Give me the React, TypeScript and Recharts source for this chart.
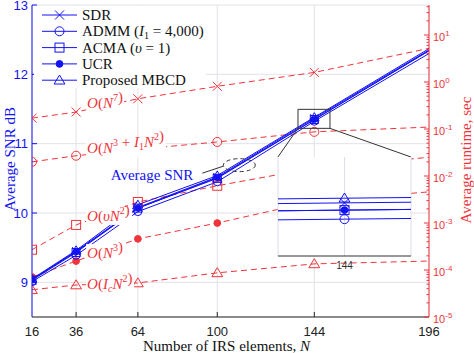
import React from 'react';
import {
  LineChart,
  Line,
  XAxis,
  YAxis,
  CartesianGrid,
  Legend,
  ReferenceDot,
  ReferenceArea,
  ReferenceLine,
} from 'recharts';

// x values (number of IRS elements)
const N_VALUES = [16, 36, 64, 100, 144, 196];

// series keys / legend names
const SERIES_KEYS = ['SDR', 'ADMM', 'ACMA', 'UCR', 'MBCD'];
const SERIES_NAMES = ['SDR', 'ADMM (I1 = 4,000)', 'ACMA (υ = 1)', 'UCR', 'Proposed MBCD'];

// average SNR (dB), left axis
const snrSDR = [9.04, 9.45, 10.08, 10.52, 11.368, 12.35];
const snrADMM = [9.01, 9.39, 10.02, 10.45, 11.323, 12.3];
const snrACMA = [9.03, 9.43, 10.07, 10.5, 11.348, 12.34];
const snrUCR = [9.04, 9.44, 10.07, 10.51, 11.348, 12.34];
const snrMBCD = [9.05, 9.46, 10.12, 10.54, 11.381, 12.37];

// average runtime (sec), right log axis
const rtSDR = [0.17, 0.23, 0.44, 0.81, 1.6, 5.2];
const rtADMM = [0.02, 0.027, 0.037, 0.053, 0.087, 0.11];
const rtACMA = [2.7e-4, 9.1e-4, 2.8e-3, 6.2e-3, 0.0148, 0.025];
const rtUCR = [7.1e-5, 1.55e-4, 4.6e-4, 1.0e-3, 2.9e-3, 4.6e-3];
const rtMBCD = [3.8e-5, 4.8e-5, 5.3e-5, 8.7e-5, 1.35e-4, 1.55e-4];

// axis ticks
const N_DOMAIN = [16, 196];
const SNR_DOMAIN = [8.5, 13];
const SNR_TICKS = [9, 10, 11, 12, 13];
const RT_DECADES = [-5, -4, -3, -2, -1, 0, 1];
const RT_TOP = 43.5;
const RT_DOMAIN = [1e-5, RT_TOP];
const RT_TICKS = RT_DECADES.flatMap((e) => [1, 2, 3, 4, 5, 6, 7, 8, 9].map((m) => m * Math.pow(10, e))).filter(
  (v) => v <= RT_TOP
);

// zoom box around N = 144
const BOX_N = [136.6, 151.1];
const BOX_SNR = [11.221, 11.495];
const INSET_N = [143.9, 144.1];
const INSET_CORNER_N = [127.5, 187.8];
const INSET_CORNER_SNR = 10.808;

const SNR = [snrSDR, snrADMM, snrACMA, snrUCR, snrMBCD];
const RT = [rtSDR, rtADMM, rtACMA, rtUCR, rtMBCD];
const MARKERS = ['cross', 'circle', 'square', 'dot', 'triangle'];
const LAST = N_VALUES.length - 1;

const data = N_VALUES.map((n, i) => {
  const row: Record<string, number> = { n };
  SERIES_KEYS.forEach((k, j) => {
    row['snr' + k] = SNR[j][i];
    row['rt' + k] = RT[j][i];
  });
  return row;
});

const BLUE = '#1212f2';
const RED = '#f0343a';
const SERIF = '"Liberation Serif", "DejaVu Serif", serif';
const SANS = '"Liberation Sans", Arial, sans-serif';

function Marker({ kind, cx, cy, color, s = 4.5, clip }: any) {
  if (cx == null || cy == null || isNaN(cx) || isNaN(cy)) return null;
  const common = { stroke: color, strokeWidth: 1, fill: 'none', clipPath: clip };
  switch (kind) {
    case 'cross':
      return <path {...common} d={`M${cx - s},${cy - s}L${cx + s},${cy + s}M${cx - s},${cy + s}L${cx + s},${cy - s}`} />;
    case 'circle':
      return <circle {...common} cx={cx} cy={cy} r={s} />;
    case 'square':
      return <rect {...common} x={cx - s} y={cy - s} width={2 * s} height={2 * s} />;
    case 'dot':
      return <circle {...common} fill={color} cx={cx} cy={cy} r={s * 0.75} />;
    default:
      return (
        <path
          {...common}
          d={`M${cx},${cy - s * 1.15}L${cx + s * 1.2},${cy + s * 0.85}L${cx - s * 1.2},${cy + s * 0.85}Z`}
        />
      );
  }
}

// markers of the main plot: the point on the right border carries no marker
function mainDot(kind: string, color: string, s: number, id: string) {
  return (p: any) =>
    p.index === LAST ? (
      <g key={id + p.index} />
    ) : (
      <Marker key={id + p.index} kind={kind} cx={p.cx} cy={p.cy} color={color} s={s} clip="url(#plot-clip)" />
    );
}

function SeriesName({ k }: { k: string }) {
  if (k === 'ADMM')
    return (
      <>
        ADMM (<tspan fontStyle="italic">I</tspan>
        <tspan fontSize={10} dy={4}>1</tspan>
        <tspan dy={-4}> = 4,000)</tspan>
      </>
    );
  if (k === 'ACMA')
    return (
      <>
        ACMA (<tspan fontStyle="italic">υ</tspan> = 1)
      </>
    );
  return <>{SERIES_NAMES[SERIES_KEYS.indexOf(k)]}</>;
}

function Complexity({ k }: { k: string }) {
  const O = <tspan fontStyle="italic">O</tspan>;
  const Nn = <tspan fontStyle="italic">N</tspan>;
  const sup = (t: string) => (
    <>
      <tspan dy={-6} fontSize={10}>{t}</tspan>
      <tspan dy={6}>{''}</tspan>
    </>
  );
  if (k === 'SDR') return <>{O}({Nn}{sup('7')})</>;
  if (k === 'ADMM')
    return (
      <>
        {O}({Nn}{sup('3')} + <tspan fontStyle="italic">I</tspan>
        <tspan dy={4} fontSize={10}>1</tspan>
        <tspan dy={-4} fontStyle="italic">N</tspan>
        {sup('2')})
      </>
    );
  if (k === 'ACMA')
    return (
      <>
        {O}(<tspan fontStyle="italic">υN</tspan>{sup('2')})
      </>
    );
  if (k === 'UCR') return <>{O}({Nn}{sup('3')})</>;
  return (
    <>
      {O}(<tspan fontStyle="italic">I</tspan>
      <tspan dy={4} fontSize={10} fontStyle="italic">c</tspan>
      <tspan dy={-4} fontStyle="italic">N</tspan>
      {sup('2')})
    </>
  );
}

const LABEL_WIDTH: Record<string, number> = { SDR: 38, ADMM: 80, ACMA: 46, UCR: 42, MBCD: 48 };
const LABEL_DY: Record<string, number> = { SDR: -9, ADMM: -8, ACMA: -9, UCR: -8, MBCD: -1 };

function ComplexityLabel({ cx, cy, k }: any) {
  const x = cx + 11;
  const y = cy + LABEL_DY[k];
  return (
    <g>
      <rect x={x - 1} y={y - 9} width={LABEL_WIDTH[k]} height={18} fill="#fff" />
      <text x={x} y={y} dominantBaseline="central" fontFamily={SERIF} fontSize={15} fill={RED}>
        <Complexity k={k} />
      </text>
    </g>
  );
}

function SnrNote({ cx, cy }: any) {
  return (
    <g>
      <ellipse cx={cx} cy={cy} rx={16} ry={6.5} fill="none" stroke="#333" strokeDasharray="4 3" />
      <line x1={cx - 37} y1={cy + 8} x2={cx - 16} y2={cy + 1} stroke="#333" />
      <text x={cx - 46} y={cy + 10} textAnchor="end" dominantBaseline="central" fontFamily={SERIF} fontSize={15} fill={BLUE}>
        Average SNR
      </text>
    </g>
  );
}

function LeftTick({ x, y, payload }: any) {
  const ax = x + 5;
  return (
    <g>
      <line x1={ax} x2={ax + 5} y1={y} y2={y} stroke={BLUE} />
      <text x={ax - 4} y={y} textAnchor="end" dominantBaseline="central" fontFamily={SANS} fontSize={13} fill={BLUE}>
        {payload.value}
      </text>
    </g>
  );
}

function RightTick({ x, y, payload }: any) {
  const lg = Math.log10(payload.value);
  const e = Math.round(lg);
  const major = Math.abs(lg - e) < 1e-6;
  const ax = x - 4;
  return (
    <g>
      <line x1={ax} x2={ax - (major ? 5 : 2.5)} y1={y} y2={y} stroke={RED} />
      {major && (
        <text x={x} y={y + 6} fontFamily={SANS} fontSize={11} fill={RED}>
          10
          <tspan dy={-5} fontSize={8}>{e}</tspan>
        </text>
      )}
    </g>
  );
}

function BottomTick({ x, y, payload }: any) {
  const edge = payload.value === N_VALUES[0] || payload.value === N_VALUES[LAST];
  return (
    <g>
      {!edge && <line x1={x} x2={x} y1={y} y2={y - 5} stroke="#262626" />}
      <text x={x} y={y + 14} textAnchor="middle" dominantBaseline="central" fontFamily={SANS} fontSize={13} fill="#222">
        {payload.value}
      </text>
    </g>
  );
}

function TopTick({ x, y, payload }: any) {
  const edge = payload.value === N_VALUES[0] || payload.value === N_VALUES[LAST];
  if (edge) return <g />;
  return <line x1={x} x2={x} y1={y} y2={y + 5} stroke="#262626" />;
}

function InsetTick({ x, y, payload }: any) {
  return (
    <text x={x} y={y + 9} textAnchor="middle" dominantBaseline="central" fontFamily={SANS} fontSize={10} fill="#333">
      {payload.value}
    </text>
  );
}

function XTitle({ viewBox }: any) {
  const cx = viewBox.x + viewBox.width / 2 - 4;
  return (
    <text x={cx} y={viewBox.y + 29} textAnchor="middle" dominantBaseline="central" fontFamily={SERIF} fontSize={15} fill="#111">
      Number of IRS elements, <tspan fontStyle="italic">N</tspan>
    </text>
  );
}

function LeftTitle({ viewBox }: any) {
  const x = 10;
  const y = viewBox.y + viewBox.height / 2 - 2;
  return (
    <text x={x} y={y} transform={`rotate(-90 ${x} ${y})`} textAnchor="middle" dominantBaseline="central" fontFamily={SERIF} fontSize={15} fill={BLUE}>
      Average SNR dB
    </text>
  );
}

function RightTitle({ viewBox }: any) {
  const x = 466;
  const y = viewBox.y + viewBox.height / 2 - 1;
  return (
    <text x={x} y={y} transform={`rotate(-90 ${x} ${y})`} textAnchor="middle" dominantBaseline="central" fontFamily={SERIF} fontSize={15} fill={RED}>
      Average runtime, sec
    </text>
  );
}

function LegendBox({ payload }: any) {
  const items = (payload || [])
    .filter((p: any) => String(p.dataKey).startsWith('snr'))
    .map((p: any) => String(p.dataKey).slice(3))
    .sort((a: string, b: string) => SERIES_KEYS.indexOf(a) - SERIES_KEYS.indexOf(b));
  return (
    <svg width={172} height={82} style={{ display: 'block', background: '#fff' }}>
      {items.map((k: string, i: number) => {
        const idx = SERIES_KEYS.indexOf(k);
        const y = 9 + i * 16.3;
        return (
          <g key={k}>
            <line x1={8} x2={43} y1={y} y2={y} stroke={BLUE} />
            <Marker kind={MARKERS[idx]} cx={25.5} cy={y} color={BLUE} s={4.5} />
            <text x={48} y={y} dominantBaseline="central" fontFamily={SERIF} fontSize={15} fill="#111">
              <SeriesName k={k} />
            </text>
          </g>
        );
      })}
    </svg>
  );
}

export default function App() {
  return (
    <div style={{ position: 'absolute', left: 0, top: 0, width: 474, height: 353, background: '#fff' }}>
      <LineChart width={474} height={353} data={data} margin={{ top: 5, right: 0, bottom: 0, left: 0 }}>
        <defs>
          <clipPath id="plot-clip">
            <rect x={32} y={5} width={397} height={312} />
          </clipPath>
        </defs>
        <CartesianGrid xAxisId="bottom" yAxisId="left" stroke="#e2e2ea" />
        <XAxis
          xAxisId="bottom"
          dataKey="n"
          type="number"
          domain={N_DOMAIN}
          ticks={N_VALUES}
          interval={0}
          height={36}
          tickSize={0}
          tickMargin={0}
          tick={<BottomTick />}
          axisLine={{ stroke: '#262626' }}
          label={<XTitle />}
        />
        <XAxis
          xAxisId="top"
          orientation="top"
          dataKey="n"
          type="number"
          domain={N_DOMAIN}
          ticks={N_VALUES}
          interval={0}
          height={0}
          tickSize={0}
          tickMargin={0}
          tick={<TopTick />}
          axisLine={{ stroke: '#262626' }}
        />
        <YAxis
          yAxisId="left"
          domain={SNR_DOMAIN}
          ticks={SNR_TICKS}
          interval={0}
          width={32}
          tickSize={0}
          tickMargin={5}
          tick={<LeftTick />}
          axisLine={{ stroke: BLUE }}
          label={<LeftTitle />}
        />
        <YAxis
          yAxisId="right"
          orientation="right"
          scale="log"
          domain={RT_DOMAIN}
          allowDataOverflow
          ticks={RT_TICKS}
          interval={0}
          width={45}
          tickSize={0}
          tickMargin={4}
          tick={<RightTick />}
          axisLine={{ stroke: RED }}
          label={<RightTitle />}
        />

        {SERIES_KEYS.map((k, i) => (
          <Line
            key={'rt' + k}
            xAxisId="bottom"
            yAxisId="right"
            dataKey={'rt' + k}
            stroke={RED}
            strokeWidth={1}
            strokeDasharray="6 4"
            legendType="none"
            isAnimationActive={false}
            activeDot={false}
            dot={mainDot(MARKERS[i], RED, 4.5, 'rtd' + k)}
          />
        ))}
        {SERIES_KEYS.map((k, i) => (
          <Line
            key={'snr' + k}
            xAxisId="bottom"
            yAxisId="left"
            dataKey={'snr' + k}
            name={SERIES_NAMES[i]}
            stroke={BLUE}
            strokeWidth={1}
            isAnimationActive={false}
            activeDot={false}
            dot={mainDot(MARKERS[i], BLUE, 4, 'sd' + k)}
          />
        ))}

        <Legend
          layout="horizontal"
          align="center"
          verticalAlign="middle"
          content={<LegendBox />}
          wrapperStyle={{ left: 34, top: 6, width: 172, height: 82, right: 'auto', bottom: 'auto' }}
        />
      </LineChart>

      {/* annotation layer on top of the series, built on the same axes as the main chart */}
      <div style={{ position: 'absolute', left: 0, top: 0, pointerEvents: 'none' }}>
        <LineChart width={474} height={353} data={data} margin={{ top: 5, right: 0, bottom: 0, left: 0 }}>
          <XAxis
            xAxisId="bottom"
            dataKey="n"
            type="number"
            domain={N_DOMAIN}
            allowDataOverflow
            height={36}
            tick={false}
            axisLine={false}
            tickLine={false}
          />
          <XAxis xAxisId="top" orientation="top" dataKey="n" type="number" domain={N_DOMAIN} allowDataOverflow height={0} tick={false} axisLine={false} />
          <YAxis yAxisId="left" domain={SNR_DOMAIN} allowDataOverflow width={32} tick={false} axisLine={false} tickLine={false} />
          <YAxis
            yAxisId="right"
            orientation="right"
            scale="log"
            domain={RT_DOMAIN}
            allowDataOverflow
            width={45}
            tick={false}
            axisLine={false}
            tickLine={false}
          />
          <Line xAxisId="bottom" yAxisId="left" dataKey="snrSDR" stroke="none" dot={false} activeDot={false} legendType="none" isAnimationActive={false} />
          <Line xAxisId="bottom" yAxisId="right" dataKey="rtSDR" stroke="none" dot={false} activeDot={false} legendType="none" isAnimationActive={false} />
          <ReferenceArea
            xAxisId="bottom"
            yAxisId="left"
            x1={BOX_N[0]}
            x2={BOX_N[1]}
            y1={BOX_SNR[0]}
            y2={BOX_SNR[1]}
            fill="none"
            fillOpacity={0}
            stroke="#333"
            ifOverflow="visible"
          />
          <ReferenceLine
            xAxisId="bottom"
            yAxisId="left"
            ifOverflow="visible"
            segment={[
              { x: BOX_N[0], y: BOX_SNR[0] },
              { x: INSET_CORNER_N[0], y: INSET_CORNER_SNR },
            ]}
            stroke="#333"
          />
          <ReferenceLine
            xAxisId="bottom"
            yAxisId="left"
            ifOverflow="visible"
            segment={[
              { x: BOX_N[1], y: BOX_SNR[0] },
              { x: INSET_CORNER_N[1], y: INSET_CORNER_SNR },
            ]}
            stroke="#333"
          />
          {SERIES_KEYS.map((k, i) => (
            <ReferenceDot
              key={'lbl' + k}
              xAxisId="bottom"
              yAxisId="right"
              x={N_VALUES[1]}
              y={RT[i][1]}
              r={0}
              ifOverflow="visible"
              shape={(p: any) => <ComplexityLabel cx={p.cx} cy={p.cy} k={k} />}
            />
          ))}
          <ReferenceDot
            xAxisId="bottom"
            yAxisId="left"
            x={110}
            y={10.69}
            r={0}
            ifOverflow="visible"
            shape={(p: any) => <SnrNote cx={p.cx} cy={p.cy} />}
          />
        </LineChart>
      </div>

      {/* zoomed view around N = 144 */}
      <div style={{ position: 'absolute', left: 268, top: 150 }}>
        <LineChart width={150} height={125} data={data} margin={{ top: 7, right: 7, bottom: 0, left: 10 }}>
          <CartesianGrid xAxisId="ib" yAxisId="il" horizontal={false} fill="#fff" fillOpacity={1} stroke="#dedee6" />
          <XAxis
            xAxisId="ib"
            dataKey="n"
            type="number"
            domain={INSET_N}
            allowDataOverflow
            ticks={[144]}
            height={19}
            tickSize={0}
            tickMargin={0}
            tick={<InsetTick />}
            axisLine={{ stroke: '#333' }}
          />
          <XAxis
            xAxisId="it"
            orientation="top"
            dataKey="n"
            type="number"
            domain={INSET_N}
            allowDataOverflow
            height={0}
            tick={false}
            axisLine={{ stroke: '#333' }}
          />
          <YAxis yAxisId="il" domain={BOX_SNR} allowDataOverflow width={0} tick={false} axisLine={{ stroke: BLUE }} />
          <YAxis
            yAxisId="ir"
            orientation="right"
            domain={BOX_SNR}
            allowDataOverflow
            width={0}
            tick={false}
            axisLine={{ stroke: RED }}
          />
          {SERIES_KEYS.map((k, i) => (
            <Line
              key={'in' + k}
              xAxisId="ib"
              yAxisId="il"
              dataKey={'snr' + k}
              stroke={BLUE}
              strokeWidth={1}
              isAnimationActive={false}
              activeDot={false}
              dot={(p: any) => <Marker key={'id' + k + p.index} kind={MARKERS[i]} cx={p.cx} cy={p.cy} color={BLUE} s={4.5} />}
            />
          ))}
        </LineChart>
      </div>
    </div>
  );
}
